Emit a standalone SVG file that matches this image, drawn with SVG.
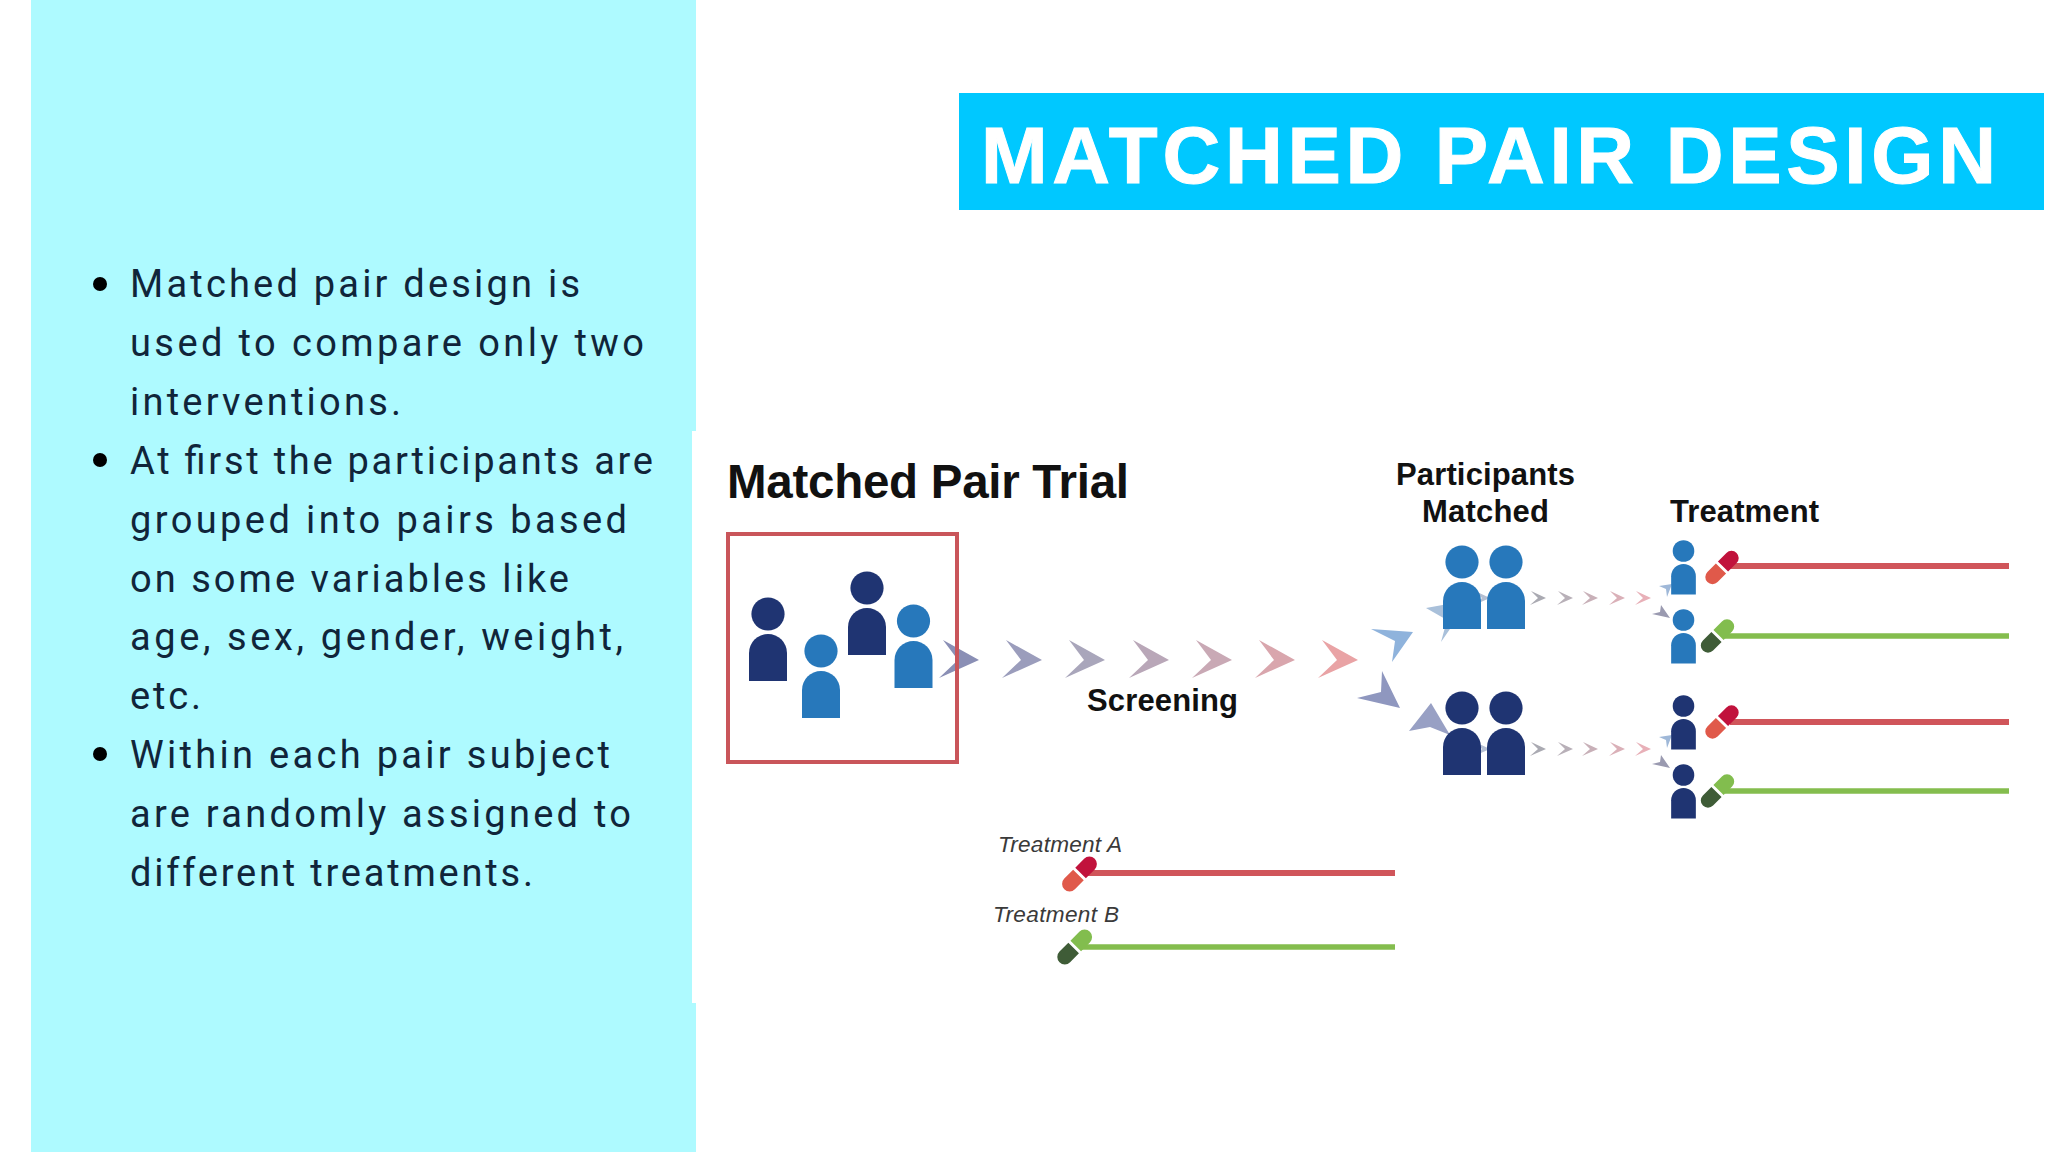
<svg xmlns="http://www.w3.org/2000/svg" xmlns:xlink="http://www.w3.org/1999/xlink" width="2048" height="1152" viewBox="0 0 2048 1152">
<style>
.body{font-family:"Roboto","Liberation Sans",sans-serif;font-size:38px;fill:#10253a}
.h{font-family:"Liberation Sans",Arial,sans-serif;font-weight:700;fill:#111}
.i{font-family:"Liberation Sans",Arial,sans-serif;font-style:italic;font-size:22.6px;fill:#3a3a3a}
.navy{fill:#1f3472}.blue{fill:#2778bb}
.red{stroke:#d0555a;stroke-width:6;fill:none}
.green{stroke:#84bd4e;stroke-width:5.5;fill:none}
</style>
<defs>
<g id="person"><circle cx="0" cy="0" r="16.6"/><path d="M-19 67V39a19 19 0 0 1 38 0V67Z"/></g>
<polygon id="chev" points="0,0 -36,-20 -21,0 -40,18"/>
<polygon id="mini" points="0,0 -15,-7 -8,0 -16,7"/>
<g id="pillR"><path d="M-1.5 -7.5H-14a7.5 7.5 0 0 0 0 15H-1.500Z" fill="#e0594a"/><path d="M1.500 -7.500H14a7.500 7.500 0 0 1 0 15H1.500Z" fill="#c1123c"/></g>
<g id="pillG"><path d="M-1.5 -7.5H-14a7.5 7.500 0 0 0 0 15H-1.500Z" fill="#3f5c37"/><path d="M1.500 -7.500H14a7.500 7.500 0 0 1 0 15H1.500Z" fill="#82bd4e"/></g>
</defs>
<rect width="2048" height="1152" fill="#ffffff"/>
<g id="panel">
<rect x="31" y="0" width="665" height="1152" fill="#aefaff"/>
<rect x="692" y="431" width="8" height="572" fill="#ffffff"/>
<circle cx="100" cy="284" r="7"/><circle cx="100" cy="460" r="7"/><circle cx="100" cy="754" r="7"/>
<text class="body" x="130" y="297" textLength="450">Matched pair design is</text>
<text class="body" x="130" y="356" textLength="514">used to compare only two</text>
<text class="body" x="130" y="415" textLength="271">interventions.</text>
<text class="body" x="130" y="474" textLength="523">At first the participants are</text>
<text class="body" x="130" y="533" textLength="497">grouped into pairs based</text>
<text class="body" x="130" y="592" textLength="439">on some variables like</text>
<text class="body" x="130" y="650" textLength="493">age, sex, gender, weight,</text>
<text class="body" x="130" y="709" textLength="71">etc.</text>
<text class="body" x="130" y="768" textLength="480">Within each pair subject</text>
<text class="body" x="130" y="827" textLength="501">are randomly assigned to</text>
<text class="body" x="130" y="886" textLength="403">different treatments.</text>
</g>
<g id="title">
<rect x="959" y="93" width="1085" height="117" fill="#00c8ff"/>
<text x="981" y="183" textLength="1015" font-family="Liberation Sans, Arial, sans-serif" font-weight="700" font-size="80" fill="#ffffff" stroke="#ffffff" stroke-width="1">MATCHED PAIR DESIGN</text>
</g>
<text class="h" x="727" y="498" font-size="47.5" textLength="402">Matched Pair Trial</text>
<g id="connectors">
<use href="#chev" transform="translate(979 660)" fill="#8a8fb5"/>
<use href="#chev" transform="translate(1042 660)" fill="#9b9dbc"/>
<use href="#chev" transform="translate(1105 660)" fill="#a9a6bb"/>
<use href="#chev" transform="translate(1169 660)" fill="#b9a7b8"/>
<use href="#chev" transform="translate(1232 660)" fill="#c9a9b5"/>
<use href="#chev" transform="translate(1295 660)" fill="#d9a6ad"/>
<use href="#chev" transform="translate(1358 660)" fill="#e9a3a5"/>
<polygon points="1371,629 1413,632 1392,662 1395,641" fill="#8fb3dc"/>
<polygon points="1400,708 1382,671 1381,692 1357,698" fill="#8f97bf"/>
<polygon points="1426,608 1470,600 1441,642 1447,620" fill="#a9c0da"/>
<polygon points="1409,731 1431,703 1450,735 1430,727" fill="#98a0c4"/>
<use href="#mini" transform="translate(1490 598)" fill="#b5bfd2"/>
<use href="#mini" transform="translate(1490 749)" fill="#b5bfd2"/>
<use href="#mini" transform="translate(1546 598)" fill="#aaaab2"/>
<use href="#mini" transform="translate(1573 598)" fill="#b8b0b8"/>
<use href="#mini" transform="translate(1598 598)" fill="#c8b0b8"/>
<use href="#mini" transform="translate(1625 598)" fill="#dab0b8"/>
<use href="#mini" transform="translate(1651 598)" fill="#e8b0b8"/>
<use href="#mini" transform="translate(1546 749)" fill="#aaaab2"/>
<use href="#mini" transform="translate(1573 749)" fill="#b8b0b8"/>
<use href="#mini" transform="translate(1598 749)" fill="#c8b0b8"/>
<use href="#mini" transform="translate(1625 749)" fill="#dab0b8"/>
<use href="#mini" transform="translate(1651 749)" fill="#e8b0b8"/>
<polygon points="1659,586 1672,584 1667,597 1666,589" fill="#9fb8d8"/>
<polygon points="1670,618 1661,605 1660,612 1652,614" fill="#9a9ab0"/>
<polygon points="1659,737 1672,735 1667,748 1666,740" fill="#9fb8d8"/>
<polygon points="1670,768 1661,755 1660,762 1652,764" fill="#9a9ab0"/>
<line class="red" x1="1730" y1="566" x2="2009" y2="566"/>
<line class="green" x1="1725" y1="636" x2="2009" y2="636"/>
<line class="red" x1="1730" y1="722" x2="2009" y2="722"/>
<line class="green" x1="1725" y1="791" x2="2009" y2="791"/>
<line class="red" x1="1085" y1="873" x2="1395" y2="873"/>
<line class="green" x1="1080" y1="947" x2="1395" y2="947"/>
</g>
<g id="group-screened">
<rect x="728" y="534" width="229" height="228" fill="none" stroke="#c9555a" stroke-width="4"/>
<use href="#person" class="navy" x="768" y="614"/>
<use href="#person" class="blue" x="821" y="651"/>
<use href="#person" class="navy" x="867" y="588"/>
<use href="#person" class="blue" x="913.500" y="621"/>
</g>
<text id="screening" class="h" x="1087" y="711" font-size="31" textLength="151">Screening</text>
<g id="pairs">
<text class="h" x="1396" y="485" font-size="31" textLength="179">Participants</text>
<text class="h" x="1422" y="522" font-size="31" textLength="127">Matched</text>
<use href="#person" class="blue" x="1462" y="562"/>
<use href="#person" class="blue" x="1506" y="562"/>
<use href="#person" class="navy" x="1462" y="708"/>
<use href="#person" class="navy" x="1506" y="708"/>
</g>
<g id="treatment">
<text class="h" x="1670" y="522" font-size="31" textLength="149">Treatment</text>
<use href="#person" class="blue" transform="translate(1683.500 551) scale(.65)"/>
<use href="#person" class="blue" transform="translate(1683.500 620) scale(.65)"/>
<use href="#person" class="navy" transform="translate(1683.500 706) scale(.65)"/>
<use href="#person" class="navy" transform="translate(1683.500 775) scale(.65)"/>
<use href="#pillR" transform="translate(1722 567.500) rotate(-45) scale(.96)"/>
<use href="#pillG" transform="translate(1717.500 636) rotate(-45) scale(.96)"/>
<use href="#pillR" transform="translate(1722 722) rotate(-45) scale(.96)"/>
<use href="#pillG" transform="translate(1717.500 791) rotate(-45) scale(.96)"/>
</g>
<g id="legend">
<text class="i" x="998" y="852" textLength="124">Treatment A</text>
<use href="#pillR" transform="translate(1079.500 874) rotate(-45)"/>
<text class="i" x="993" y="922" textLength="126">Treatment B</text>
<use href="#pillG" transform="translate(1074.700 947) rotate(-45)"/>
</g>
</svg>
